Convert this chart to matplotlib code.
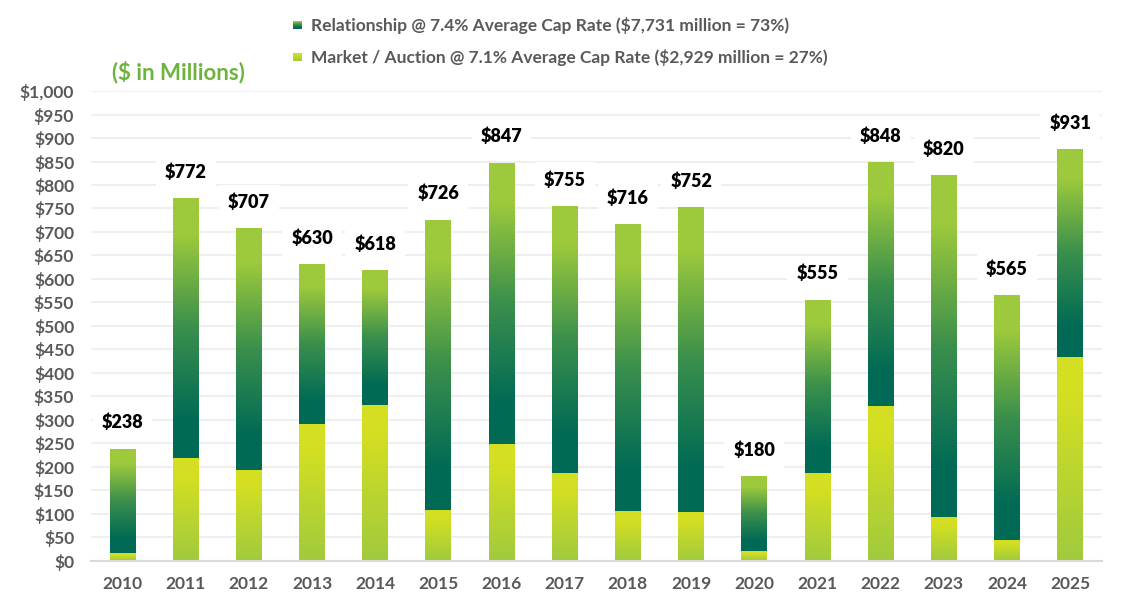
import numpy as np
import matplotlib.pyplot as plt
from matplotlib.colors import LinearSegmentedColormap

plt.rcParams['font.family'] = ['Lato', 'DejaVu Sans']

years = ['2010', '2011', '2012', '2013', '2014', '2015', '2016', '2017',
         '2018', '2019', '2020', '2021', '2022', '2023', '2024', '2025']
# values ($ millions)
market = [17, 219, 194, 291, 332, 109, 249, 187, 106, 104, 21, 187, 330, 94, 45, 434]
relationship = [221, 553, 513, 339, 286, 617, 598, 568, 610, 648, 159, 368, 518, 726, 520, 442]
total_labels = [238, 772, 707, 630, 618, 726, 847, 755, 716, 752, 180, 555, 848, 820, 565, 931]

legend_labels = ['Relationship @ 7.4% Average Cap Rate ($7,731 million = 73%)',
                 'Market / Auction @ 7.1% Average Cap Rate ($2,929 million = 27%)']

rel_cmap = LinearSegmentedColormap.from_list(
    'rel', [(0, '#006a55'), (0.14, '#006a55'), (0.5, '#3a8f4c'),
            (0.86, '#9dca3c'), (1, '#9dca3c')])
mkt_cmap = LinearSegmentedColormap.from_list(
    'mkt', [(0, '#a0ca3e'), (0.82, '#d4df22'), (1, '#d4df22')])

grey = '#595959'

fig = plt.figure(figsize=(11.22, 6.13), dpi=100)
ax = fig.add_axes([0.081, 0.085, 0.901, 0.7665])

x = np.arange(len(years))
width = 0.41
bars_m = ax.bar(x, market, width, color='none', edgecolor='none')
bars_r = ax.bar(x, relationship, width, bottom=market, color='none', edgecolor='none')

grad = np.linspace(0, 1, 256).reshape(-1, 1)


def fill_gradient(bars, cmap):
    for b in bars:
        x0, y0 = b.get_x(), b.get_y()
        ax.imshow(grad, cmap=cmap, origin='lower', aspect='auto',
                  interpolation='bilinear', zorder=2,
                  extent=[x0, x0 + b.get_width(), y0, y0 + b.get_height()])


fill_gradient(bars_m, mkt_cmap)
fill_gradient(bars_r, rel_cmap)

# total labels on white boxes
for b, lab in zip(bars_r, total_labels):
    top = b.get_y() + b.get_height()
    ax.annotate('${:,}'.format(lab), (b.get_x() + b.get_width() / 2, top),
                xytext=(0, 19), textcoords='offset points',
                ha='center', va='center', fontsize=13, fontweight='heavy',
                color='black', zorder=4,
                bbox=dict(boxstyle='square,pad=0.5', fc='white', ec='none'))

ax.set_xlim(-0.5, 15.5)
ax.set_ylim(0, 1000)
ax.set_yticks(np.arange(0, 1001, 50))
ax.set_yticklabels(['${:,}'.format(v) for v in range(0, 1001, 50)])
ax.set_xticks(x)
ax.set_xticklabels(years)
ax.tick_params(length=0, labelsize=12.5, colors=grey)
ax.tick_params(axis='y', pad=12)
ax.tick_params(axis='x', pad=11)
for t in ax.get_xticklabels() + ax.get_yticklabels():
    t.set_fontweight('bold')

ax.yaxis.grid(True, color='#efefef', lw=1.5)
ax.set_axisbelow(True)
for s in ['top', 'right', 'left']:
    ax.spines[s].set_visible(False)
ax.spines['bottom'].set_color('#d9d9d9')
ax.spines['bottom'].set_linewidth(1.5)
ax.spines['bottom'].set_zorder(3)

fig.text(178 / 1122, 1 - 72 / 613, '($ in Millions)', ha='center', va='center',
         fontsize=16, fontweight='bold', color='#6db33f')

# legend drawn by hand
for i, (lab, cmap) in enumerate(zip(legend_labels, [rel_cmap, mkt_cmap])):
    yc = [25, 57][i]
    sq = fig.add_axes([293 / 1122, 1 - (yc + 4.5) / 613, 9 / 1122, 9 / 613])
    sq.imshow(grad, cmap=cmap, origin='lower', aspect='auto')
    sq.axis('off')
    fig.text(311 / 1122, 1 - yc / 613, lab, ha='left', va='center',
             fontsize=12.5, fontweight='bold', color=grey)

fig.savefig('out.png', dpi=100)
